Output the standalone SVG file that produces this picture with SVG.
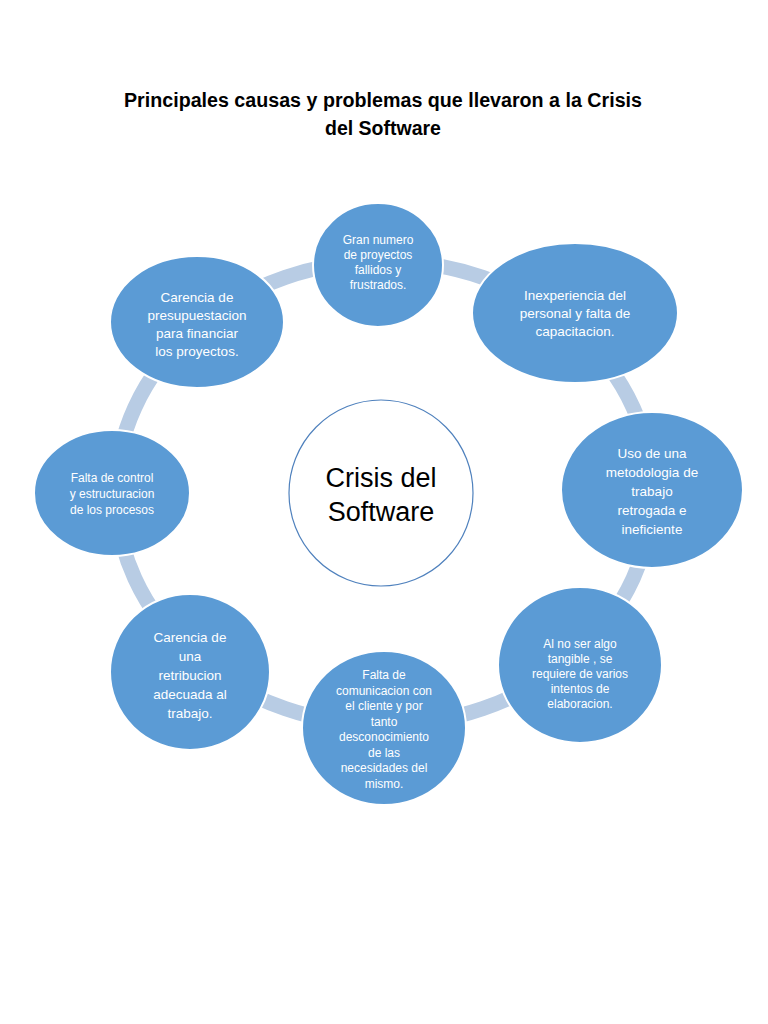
<svg xmlns="http://www.w3.org/2000/svg" width="768" height="1024" viewBox="0 0 768 1024">
<style>
.n{fill:#5b9bd5;stroke:#fff;stroke-width:2}
.t{fill:#fff;font-family:"Liberation Sans",Arial,sans-serif;text-anchor:middle}
.s{font-size:12px}.m{font-size:13.5px}
.h{font-family:"Liberation Sans",Arial,sans-serif;font-weight:bold;font-size:19.5px;text-anchor:middle;fill:#000}
</style>
<rect width="768" height="1024" fill="#fff"/>
<text class="h" x="383" y="107" textLength="518" lengthAdjust="spacingAndGlyphs">Principales causas y problemas que llevaron a la Crisis</text>
<text class="h" x="383" y="135">del Software</text>
<g id="connectors"><ellipse cx="384" cy="493" rx="268" ry="232" fill="none" stroke="#b8cce4" stroke-width="15"/></g>
<g id="center"><ellipse cx="381" cy="493" rx="92" ry="93" fill="#fff" stroke="#4f81bd" stroke-width="1.2"/>
<text class="t" style="fill:#000;font-size:27px" x="381" y="487">Crisis del</text><text class="t" style="fill:#000;font-size:27px" x="381" y="521">Software</text></g>
<g id="n1"><ellipse class="n" cx="378" cy="265" rx="65" ry="62"/><text class="t s" x="378" y="244">Gran numero<tspan x="378" dy="15">de proyectos</tspan><tspan x="378" dy="15">fallidos y</tspan><tspan x="378" dy="15">frustrados.</tspan></text></g>
<g id="n2"><ellipse class="n" cx="575" cy="313" rx="103" ry="70"/><text class="t m" x="575" y="300">Inexperiencia del<tspan x="575" dy="18">personal y falta de</tspan><tspan x="575" dy="18">capacitacion.</tspan></text></g>
<g id="n3"><ellipse class="n" cx="652" cy="490" rx="91" ry="78"/><text class="t m" x="652" y="458">Uso de una<tspan x="652" dy="19">metodologia de</tspan><tspan x="652" dy="19">trabajo</tspan><tspan x="652" dy="19">retrogada e</tspan><tspan x="652" dy="19">ineficiente</tspan></text></g>
<g id="n4"><ellipse class="n" cx="580" cy="665" rx="82" ry="78"/><text class="t s" x="580" y="648">Al no ser algo<tspan x="580" dy="15">tangible , se</tspan><tspan x="580" dy="15">requiere de varios</tspan><tspan x="580" dy="15">intentos de</tspan><tspan x="580" dy="15">elaboracion.</tspan></text></g>
<g id="n5"><ellipse class="n" cx="384" cy="728" rx="82" ry="77"/><text class="t s" x="384" y="679">Falta de<tspan x="384" dy="15.5">comunicacion con</tspan><tspan x="384" dy="15.5">el cliente y por</tspan><tspan x="384" dy="15.5">tanto</tspan><tspan x="384" dy="15.5">desconocimiento</tspan><tspan x="384" dy="15.5">de las</tspan><tspan x="384" dy="15.5">necesidades del</tspan><tspan x="384" dy="15.5">mismo.</tspan></text></g>
<g id="n6"><ellipse class="n" cx="190" cy="672" rx="80" ry="78"/><text class="t m" x="190" y="642">Carencia de<tspan x="190" dy="19">una</tspan><tspan x="190" dy="19">retribucion</tspan><tspan x="190" dy="19">adecuada al</tspan><tspan x="190" dy="19">trabajo.</tspan></text></g>
<g id="n7"><ellipse class="n" cx="112" cy="493" rx="78" ry="63"/><text class="t s" x="112" y="482">Falta de control<tspan x="112" dy="16">y estructuracion</tspan><tspan x="112" dy="16">de los procesos</tspan></text></g>
<g id="n8"><ellipse class="n" cx="197" cy="322" rx="87" ry="66"/><text class="t m" x="197" y="302">Carencia de<tspan x="197" dy="18">presupuestacion</tspan><tspan x="197" dy="18">para financiar</tspan><tspan x="197" dy="18">los proyectos.</tspan></text></g>
</svg>
